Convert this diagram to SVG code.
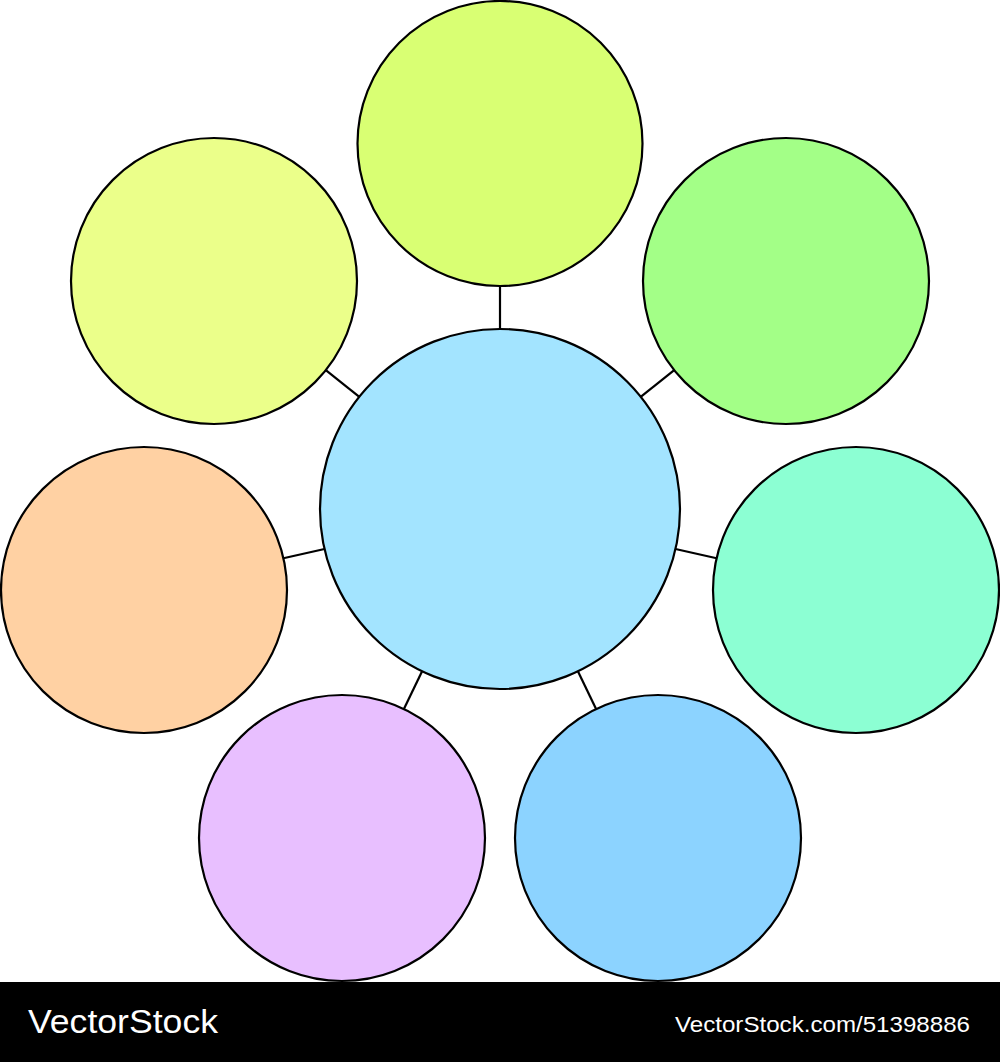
<svg xmlns="http://www.w3.org/2000/svg" width="1000" height="1062" viewBox="0 0 1000 1062">
<style>
.n{stroke:#000;stroke-width:2.2}
.c line{stroke:#000;stroke-width:2.2}
.ft{fill:#fff;font-family:"Liberation Sans",Arial,sans-serif}
</style>
<rect width="1000" height="1062" fill="#fff"/>
<g class="c" id="connectors">
<line x1="500" y1="329" x2="500" y2="286"/>
<line x1="359.3" y1="396.8" x2="325.8" y2="370.1"/>
<line x1="640.7" y1="396.8" x2="674.2" y2="370.1"/>
<line x1="324.5" y1="549" x2="283.4" y2="558.3"/>
<line x1="675.5" y1="549" x2="716.6" y2="558.3"/>
<line x1="422.1" y1="671.2" x2="403.9" y2="709.1"/>
<line x1="577.9" y1="671.2" x2="596.1" y2="709.1"/>
</g>
<g id="center"><circle class="n" cx="500" cy="509" r="180" fill="#a3e4ff"/></g>
<g id="top"><circle class="n" cx="500" cy="143.5" r="142.5" fill="#d9ff73"/></g>
<g id="top-left"><circle class="n" cx="214" cy="281" r="143" fill="#ebff8a"/></g>
<g id="top-right"><circle class="n" cx="786" cy="281" r="143" fill="#a3ff87"/></g>
<g id="left"><circle class="n" cx="144" cy="590" r="143" fill="#ffd1a3"/></g>
<g id="right"><circle class="n" cx="856" cy="590" r="143" fill="#8cffd3"/></g>
<g id="bottom-left"><circle class="n" cx="342" cy="838" r="143" fill="#e8bfff"/></g>
<g id="bottom-right"><circle class="n" cx="658" cy="838" r="143" fill="#8cd3ff"/></g>
<g id="footer">
<rect x="0" y="982" width="1000" height="80" fill="#000"/>
<text class="ft" x="28" y="1033" font-size="34" textLength="190" lengthAdjust="spacingAndGlyphs">VectorStock</text>
<text class="ft" x="675" y="1032" font-size="22" textLength="295" lengthAdjust="spacingAndGlyphs">VectorStock.com/51398886</text>
</g>
</svg>
